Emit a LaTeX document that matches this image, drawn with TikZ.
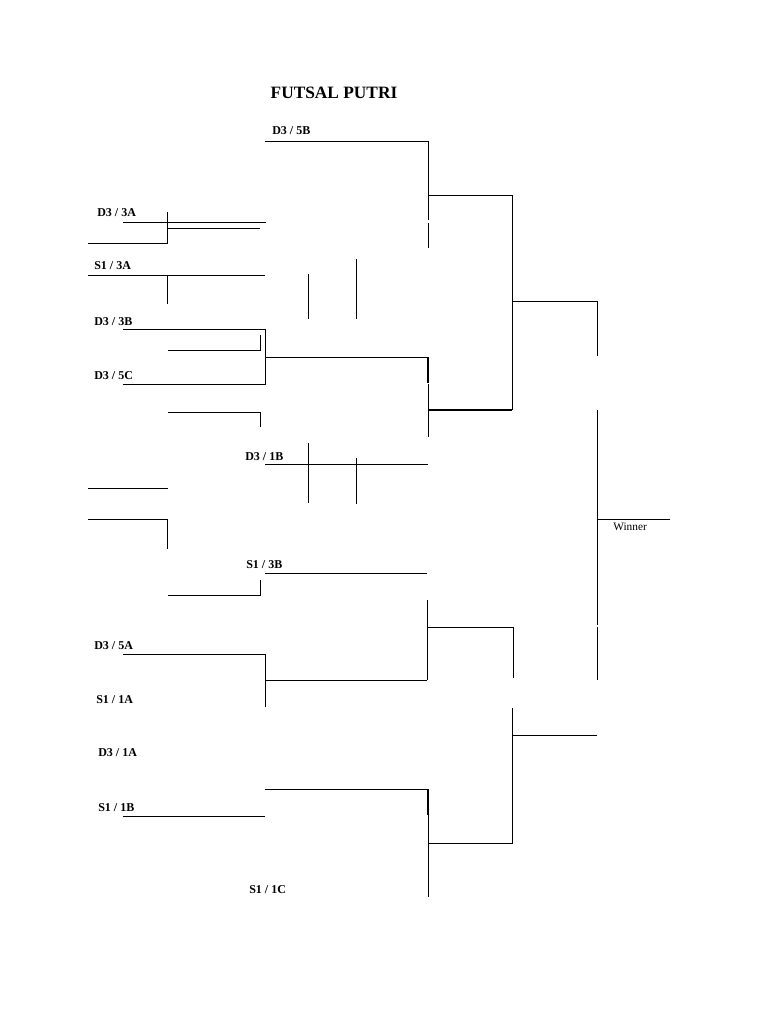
\documentclass[tikz,border=0pt]{standalone}
\usepackage{fontspec}
\setmainfont{Liberation Serif}
\begin{document}
\begin{tikzpicture}[x=0.75pt,y=-0.75pt,
  br/.style={line width=0.75pt,black},
  thk/.style={line width=1.5pt,black},
  lab/.style={font=\fontsize{9}{10}\selectfont\bfseries,inner sep=0pt,anchor=west}]
\useasboundingbox (0,0) rectangle (768,1024);
\node (title) at (334,93) {\fontsize{13}{15}\selectfont\bfseries FUTSAL PUTRI};
\node[lab] (l1) at (272,131) {D3 / 5B};
\node[lab] (l2) at (97,213) {D3 / 3A};
\node[lab] (l3) at (94,266) {S1 / 3A};
\node[lab] (l4) at (94,322) {D3 / 3B};
\node[lab] (l5) at (94,376) {D3 / 5C};
\node[lab] (l6) at (245,457) {D3 / 1B};
\node[lab] (l7) at (246,565) {S1 / 3B};
\node[lab] (l8) at (94,646) {D3 / 5A};
\node[lab] (l9) at (96,700) {S1 / 1A};
\node[lab] (l10) at (98,753) {D3 / 1A};
\node[lab] (l11) at (98,808) {S1 / 1B};
\node[lab] (l12) at (249,890) {S1 / 1C};
\node[font=\fontsize{8.5}{10}\selectfont,inner sep=0pt,anchor=west] (w) at (613,527) {Winner};
% top block
\draw[br] (265,141) -- (428,141) -- (428,220);
\draw[br] (428,223) -- (428,248);
\draw[br] (428,195) -- (512,195) -- (512,410);
\draw[br] (123,222) -- (266,222);
\draw[br] (168,228) -- (260,228);
\draw[br] (167,212) -- (167,243) -- (88,243);
\draw[br] (88,275) -- (167,275) -- (167,304);
\draw[br] (123,275) -- (265,275);
\draw[br] (308,274) -- (308,319);
\draw[br] (356,259) -- (356,319);
\draw[br] (123,329) -- (265,329) -- (265,384) -- (123,384);
\draw[br] (168,350) -- (260,350) -- (260,335);
\draw[br] (265,357) -- (428,357) -- (428,383);
\draw[thk] (428,357) -- (428,383);
\draw[br] (168,412) -- (260,412) -- (260,427);
\draw[br] (428,384) -- (428,437);
\draw[thk] (428,410) -- (512,410);
\draw[br] (512,301) -- (597,301) -- (597,356);
% middle
\draw[br] (265,464) -- (428,464);
\draw[br] (308,443) -- (308,503);
\draw[br] (356,458) -- (356,504);
\draw[br] (88,488) -- (168,488);
\draw[br] (88,519) -- (167,519) -- (167,549);
\draw[br] (265,573) -- (427,573);
\draw[br] (168,595) -- (260,595) -- (260,580);
\draw[br] (427,600) -- (427,680);
\draw[br] (427,627) -- (513,627) -- (513,678);
\draw[br] (123,654) -- (265,654) -- (265,707);
\draw[br] (265,680) -- (427,680);
% bottom
\draw[br] (265,789) -- (428,789) -- (428,897);
\draw[thk] (428,789) -- (428,815);
\draw[br] (123,816) -- (265,816);
\draw[br] (428,843) -- (512,843) -- (512,708);
\draw[br] (512,735) -- (597,735);
\draw[br] (597,627) -- (597,680);
% winner
\draw[br] (597,410) -- (597,625);
\draw[br] (597,519) -- (670,519);
\end{tikzpicture}
\end{document}
